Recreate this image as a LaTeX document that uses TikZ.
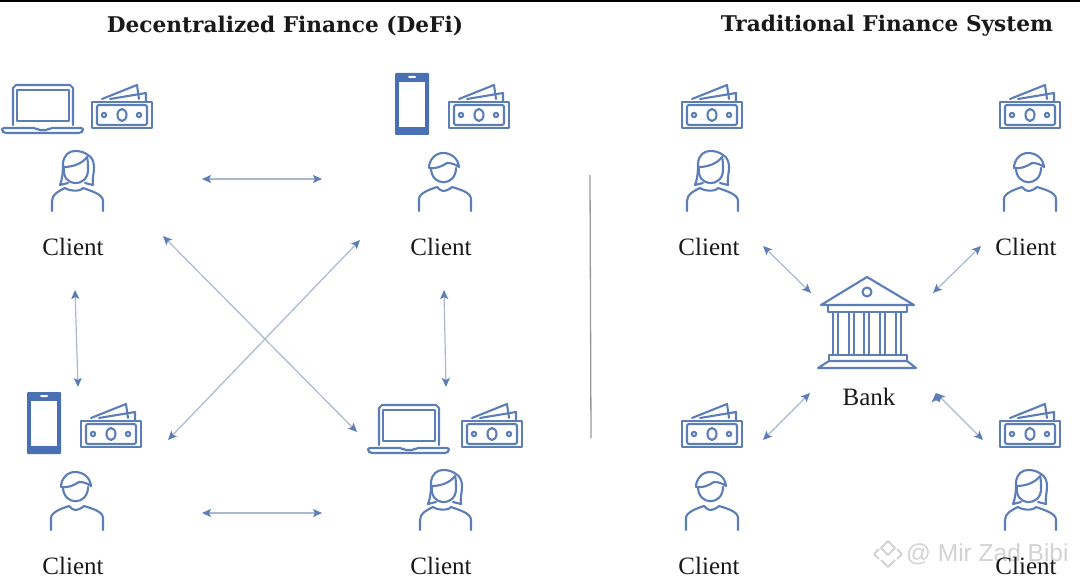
\documentclass[tikz,border=0pt]{standalone}
\usepackage{fontspec}
\setmainfont{Liberation Serif}
\newfontfamily\headserif{DejaVu Serif}
\newfontfamily\marksans{Liberation Sans}
\usetikzlibrary{arrows.meta}

\definecolor{iconblue}{HTML}{5B7DB8}
\definecolor{phoneblue}{HTML}{4A70B4}
\definecolor{linkgrey}{HTML}{A9B8CC}
\definecolor{markgrey}{HTML}{D2D2D2}

\tikzset{
    icon/.style={draw=iconblue, line width=2.1pt, line join=round, line cap=round},
    label/.style={font=\fontsize{25}{28}\selectfont, text=black!90, inner sep=0pt},
    headline/.style={font=\headserif\fontsize{21.65}{24}\selectfont\bfseries, text=black!90, inner sep=0pt},
    link/.style={draw=linkgrey, line width=1.2pt,
        {Stealth[length=9pt,width=8pt,inset=2pt,color=iconblue]}-{Stealth[length=9pt,width=8pt,inset=2pt,color=iconblue]}},
    laptop/.pic={
        \draw[icon] (-30,15) -- (-30,-22) -- ++(3,-3) -- (27,-25) -- ++(3,3) -- (30,15);
        \draw[icon] (-26,-20) rectangle (26,11);
        \draw[icon, rounded corners=2pt] (-41,18) -- (-7,18) -- (-5,20) -- (5,20) -- (7,18) -- (40,18)
            -- (40,21) -- (38,23) -- (-39,23) -- (-41,21) -- cycle;
    },
    phone/.pic={
        \fill[phoneblue, rounded corners=1pt] (-17,-31) rectangle (17,31);
        \fill[white] (-13,-22) rectangle (13,23);
        \fill[white, rounded corners=1pt] (-4,-28) rectangle (4,-26);
    },
    cash/.pic={
        \draw[icon] (-30,-13) rectangle (30,13);
        \draw[icon, rounded corners=2pt] (-25,-10) rectangle (25,10);
        \draw[icon] (0,0) ellipse (4.5 and 6);
        \draw[icon] (-18,0) circle (2.2);
        \draw[icon] (17,0) circle (2.2);
        \draw[icon] (-20,-16) -- (15,-30) -- (17,-16);
        \draw[icon] (-12,-16) -- (24,-22) -- (24,-14);
    },
    woman/.pic={
        \draw[icon] (-25,31) -- (-25,21) .. controls (-25,14) and (-18,11) .. (-12,8)
            .. controls (-8,11) and (3,12) .. (6,8) .. controls (14,11) and (26,14) .. (26,21) -- (26,31);
        \draw[icon] (-13,-13) .. controls (-16,8) and (11,8) .. (11,-10) .. controls (11,-15) and (11,-20) .. (10,-23);
        \draw[icon] (-13,-13) .. controls (-5,-13) and (5,-16) .. (10,-23);
        \draw[icon] (-9,3) -- (-17,5) .. controls (-14,-3) and (-14,-10) .. (-14,-17)
            .. controls (-13,-25) and (-8,-29) .. (-2,-29) .. controls (3,-29) and (7,-28) .. (11,-25)
            .. controls (15,-23) and (17,-18) .. (17,-13) .. controls (17,-6) and (15,-1) .. (16,5) -- (8,3);
    },
    man/.pic={
        \draw[icon] (-26,31) -- (-26,19) .. controls (-26,13) and (-14,9) .. (-8,7)
            .. controls (-6,9) and (-4,11) .. (-2,11) .. controls (1,11) and (5,9) .. (7,7)
            .. controls (13,9) and (26,12) .. (26,19) -- (26,31);
        \draw[icon] (-14,-12) .. controls (-14,7) and (11,7) .. (11,-12);
        \draw[icon] (-16,-12) .. controls (-16,-20) and (-10,-27) .. (-2,-27)
            .. controls (6,-27) and (13,-22) .. (14,-13) .. controls (10,-16) and (6,-17) .. (2,-17)
            .. controls (-4,-13) and (-10,-11) .. (-16,-12);
    },
    bank/.pic={
        \draw[icon] (0,-38) -- (47,-10) -- (-46,-10) -- cycle;
        \draw[icon] (0,-23) circle (4.5);
        \draw[icon] (-39,-10) -- (-39,-3) -- (40,-3) -- (40,-10);
        \foreach \xc in {-34,-18,-3,13,29}
            \draw[icon] (\xc,-3) -- (\xc,40) (\xc+5,-3) -- (\xc+5,40);
        \draw[icon] (-38,46) -- (-38,40) -- (40,40) -- (40,46);
        \draw[icon] (-38,46) -- (40,46) -- (49,53) -- (-49,53) -- cycle;
    },
    markgem/.style={draw=markgrey, line width=2pt, line join=round},
}

\begin{document}
\begin{tikzpicture}[x=1pt, y=-1pt]
    \useasboundingbox (0,0) rectangle (1080,580);
    \fill[black] (0,0) rectangle (1080,2);

    % headings
    \node[headline] (defi) at (285,26) {Decentralized Finance (DeFi)};
    \node[headline] (trad) at (887,26) {Traditional Finance System};

    % watermark
    \draw[markgem] (888,541) -- (895,548) -- (888,555) -- (881,548) -- cycle;
    \draw[markgem] (874,554) -- (879,549) (879,559) -- (874,554);
    \draw[markgem] (902,554) -- (897,549) (897,559) -- (902,554);
    \draw[markgem] (881,560) -- (888,567) -- (895,560);
    \node[anchor=west, inner sep=0pt, text=markgrey, font=\marksans\fontsize{24.5}{28}\selectfont] (mark)
        at (906,554) {@ Mir Zad Bibi};

    % left group
    \pic (lap1) at (43,110) {laptop};
    \pic (cash1) at (122,115) {cash};
    \pic (per1) at (77,180) {woman};
    \node[label] (cl1) at (73,247) {Client};

    \pic (pho2) at (412,104) {phone};
    \pic (cash2) at (479,115) {cash};
    \pic (per2) at (445,180) {man};
    \node[label] (cl2) at (441,247) {Client};

    \pic (pho3) at (44,423) {phone};
    \pic (cash3) at (111,434) {cash};
    \pic (per3) at (77,499) {man};
    \node[label] (cl3) at (73,566) {Client};

    \pic (lap4) at (409,430) {laptop};
    \pic (cash4) at (492,434) {cash};
    \pic (per4) at (445,499) {woman};
    \node[label] (cl4) at (441,566) {Client};

    % divider
    \coordinate (divtop) at (590,175);
    \coordinate (divbot) at (591,438);
    \draw[draw=black!40, line width=1.3pt] (divtop) -- (divbot);

    % right group
    \pic (cash5) at (712,115) {cash};
    \pic (per5) at (712,180) {woman};
    \node[label] (cl5) at (709,247) {Client};

    \pic (cash6) at (1030,115) {cash};
    \pic (per6) at (1030,180) {man};
    \node[label] (cl6) at (1026,247) {Client};

    \pic (cash7) at (712,434) {cash};
    \pic (per7) at (712,499) {man};
    \node[label] (cl7) at (709,566) {Client};

    \pic (cash8) at (1030,434) {cash};
    \pic (per8) at (1030,499) {woman};
    \node[label] (cl8) at (1026,566) {Client};

    \pic (hall) at (867,315) {bank};
    \node[label] (bk) at (869,397) {Bank};

    % link ends
    \coordinate (ha) at (202,179);
    \coordinate (hb) at (322,179);
    \coordinate (hc) at (202,513);
    \coordinate (hd) at (322,513);
    \coordinate (va) at (75,290);
    \coordinate (vb) at (78,387);
    \coordinate (vc) at (444,290);
    \coordinate (vd) at (446,387);
    \coordinate (xa) at (163,236);
    \coordinate (xb) at (357,432);
    \coordinate (xc) at (360,240);
    \coordinate (xd) at (168,440);
    \coordinate (ba) at (763,246);
    \coordinate (bb) at (811,293);
    \coordinate (bc) at (981,246);
    \coordinate (bd) at (933,293);
    \coordinate (be) at (810,393);
    \coordinate (bf) at (763,440);
    \coordinate (bg) at (936,393);
    \coordinate (bh) at (983,440);

    \draw[link]
        (ha) edge (hb)
        (hc) edge (hd)
        (va) edge (vb)
        (vc) edge (vd)
        (xa) edge (xb)
        (xc) edge (xd)
        (ba) edge (bb)
        (bc) edge (bd)
        (be) edge (bf)
        (bg) edge (bh)
        ;
\end{tikzpicture}
\end{document}
